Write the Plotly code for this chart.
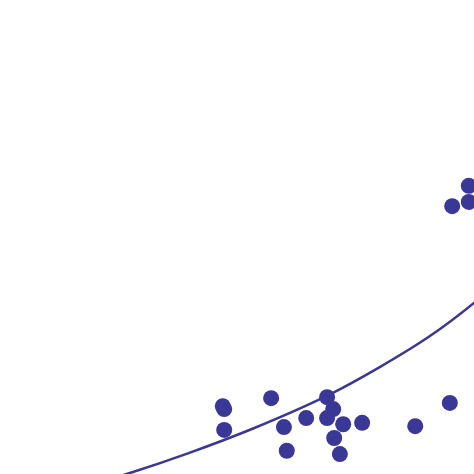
import plotly.graph_objects as go

x_obs = [47.3, 47.0, 47.3, 57.2, 59.9, 60.5, 64.6, 69.0, 70.3, 69.0, 72.4, 70.5, 71.7, 76.4,
         87.6, 94.9, 95.4, 98.9, 98.9]
y_obs = [13.7, 14.3, 9.3, 16.0, 9.9, 4.9, 11.8, 16.2, 13.7, 11.8, 10.5, 7.6, 4.2, 10.8,
         10.1, 15.0, 56.5, 60.8, 57.4]

# fitted curve
x_fit = [20.0, 27.4, 39.5, 53.4, 69.6, 80.2, 90.7, 100.0, 104.0]
y_fit = [-2.0, 0.2, 4.3, 9.6, 16.8, 22.6, 29.1, 36.1, 39.6]

color = 'rgb(58,56,150)'

fig = go.Figure()
fig.add_trace(go.Scatter(x=x_fit, y=y_fit, mode='lines',
                         line=dict(color=color, width=2.5, shape='spline', smoothing=1.0),
                         hoverinfo='skip'))
fig.add_trace(go.Scatter(x=x_obs, y=y_obs, mode='markers', marker=dict(color=color, size=16)))

fig.update_xaxes(range=[0, 100], visible=False)
fig.update_yaxes(range=[0, 100], visible=False)
fig.update_layout(
    width=474, height=474,
    margin=dict(l=0, r=0, t=0, b=0),
    plot_bgcolor='white', paper_bgcolor='white',
    showlegend=False
)

# drop the browser's default body margin so the plot sits at 0,0
fig.write_html("out.html", config={'displayModeBar': False},
               post_script="document.body.style.margin='0';document.body.style.overflow='hidden';")
